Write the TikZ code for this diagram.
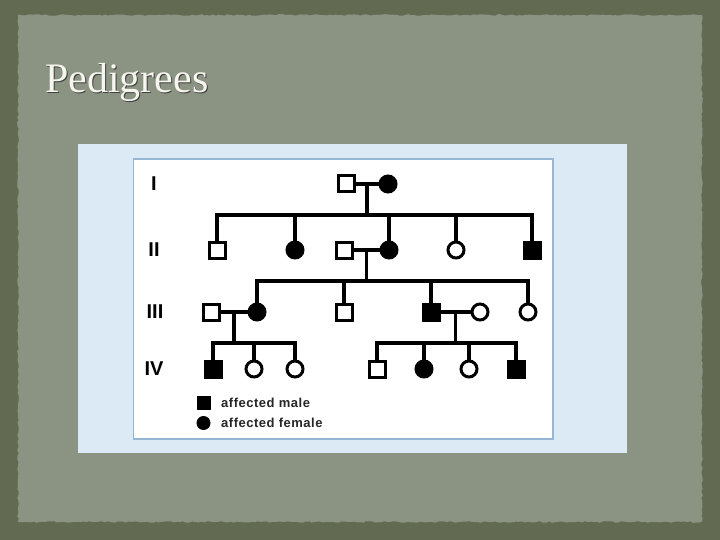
\documentclass[tikz,border=0pt]{standalone}
\usepackage{fontspec}
\setmainfont{Liberation Serif}
\newfontfamily\keyfont[LetterSpace=4]{Liberation Sans}
\newfontfamily\genfont{Liberation Sans}
\usepackage{xcolor}
\definecolor{frameGreen}{RGB}{98,106,82}
\definecolor{paperGrey}{RGB}{139,147,131}
\definecolor{panelBlue}{RGB}{220,234,246}
\definecolor{boxEdge}{RGB}{150,182,214}
\definecolor{titleCream}{RGB}{246,246,238}
\usepackage{tikz}
\usetikzlibrary{calc,decorations.pathmorphing}
\tikzstyle{person}=[draw=black, line width=3pt, minimum size=16pt, inner sep=0pt, fill=white]
\tikzstyle{male}=[person, rectangle]
\tikzstyle{female}=[person, circle]
\tikzstyle{affected}=[fill=black]
\tikzstyle{kin}=[line width=3.4pt]
\tikzstyle{gen}=[font=\genfont\bfseries\fontsize{20}{20}\selectfont, inner sep=0pt]
\tikzstyle{keysym}=[fill=black, minimum size=14pt, inner sep=0pt]
\tikzstyle{keytext}=[font=\keyfont\bfseries\fontsize{13}{15}\selectfont, anchor=west, inner sep=0pt, text=black!85]
\tikzstyle{title}=[font=\fontsize{42}{44}\selectfont, anchor=base west, inner sep=0pt]

\begin{document}
\begin{tikzpicture}[x=1pt, y=-1pt]
  \useasboundingbox (0,0) rectangle (720,540);
  % slide background
  \fill[frameGreen] (0,0) rectangle (720,540);
  \pgfmathsetseed{7}
  \fill[paperGrey, decorate, decoration={random steps, segment length=3pt, amplitude=0.8pt}]
    (18,15) rectangle (702,522);
  \node[title, text=black!75] (titleshade) at (46,94) {Pedigrees};
  \node[title, text=titleCream] (title) at (45,93) {Pedigrees};

  % picture panel
  \fill[panelBlue] (78,144) rectangle (627,453);
  \draw[boxEdge, line width=1.5pt, fill=white] (133.5,159) rectangle (553,439);

  % generation labels
  \node[gen] (genI) at (154,184) {I};
  \node[gen] (genII) at (154,250) {II};
  \node[gen] (genIII) at (155,312) {III};
  \node[gen] (genIV) at (154,369) {IV};

  % generation I
  \node[male] (Im) at (346,184) {};
  \node[female, affected] (If) at (388,184) {};
  % generation II
  \node[male] (II1) at (217,250) {};
  \node[female, affected] (II2) at (295,250) {};
  \node[male] (II3) at (344,250) {};
  \node[female, affected] (II4) at (389,250) {};
  \node[female] (II5) at (456,250) {};
  \node[male, affected] (II6) at (532,250) {};
  % generation III
  \node[male] (III1) at (211,312) {};
  \node[female, affected] (III2) at (257,312) {};
  \node[male] (III3) at (344,312) {};
  \node[male, affected] (III4) at (431,312) {};
  \node[female] (III5) at (480,312) {};
  \node[female] (III6) at (528,312) {};
  % generation IV
  \node[male, affected] (IV1) at (213,369) {};
  \node[female] (IV2) at (254,369) {};
  \node[female] (IV3) at (295,369) {};
  \node[male] (IV4) at (377,369) {};
  \node[female, affected] (IV5) at (424,369) {};
  \node[female] (IV6) at (469,369) {};
  \node[male, affected] (IV7) at (516,369) {};

  % sibship levels
  \coordinate (sibII) at (0,215);
  \coordinate (sibIII) at (0,281);
  \coordinate (sibIV) at (0,343);

  % I x I -> II
  \draw[kin] (Im) -- (If);
  \coordinate (cI) at ($(Im)!0.5!(If)$);
  \draw[kin] (cI) -- (cI |- sibII);
  \draw[kin] (II1.north) |- (sibII -| II6) -- (II6.north);
  \foreach \kid in {II2,II4,II5}
    \draw[kin] (\kid.north) -- (\kid |- sibII);

  % II x II -> III
  \draw[kin] (II3) -- (II4);
  \coordinate (cII) at ($(II3)!0.5!(II4)$);
  \draw[kin] (cII) -- (cII |- sibIII);
  \draw[kin] (III2.north) |- (sibIII -| III6) -- (III6.north);
  \foreach \kid in {III3,III4}
    \draw[kin] (\kid.north) -- (\kid |- sibIII);

  % III x III -> IV (left)
  \draw[kin] (III1) -- (III2);
  \coordinate (cIIIa) at ($(III1)!0.5!(III2)$);
  \draw[kin] (cIIIa) -- (cIIIa |- sibIV);
  \draw[kin] (IV1.north) |- (sibIV -| IV3) -- (IV3.north);
  \draw[kin] (IV2.north) -- (IV2 |- sibIV);

  % III x III -> IV (right)
  \draw[kin] (III4) -- (III5);
  \coordinate (cIIIb) at ($(III4)!0.5!(III5)$);
  \draw[kin] (cIIIb) -- (cIIIb |- sibIV);
  \draw[kin] (IV4.north) |- (sibIV -| IV7) -- (IV7.north);
  \foreach \kid in {IV5,IV6}
    \draw[kin] (\kid.north) -- (\kid |- sibIV);

  % key
  \node[keysym, rectangle] (keym) at (203.5,403) {};
  \node[keysym, circle] (keyf) at (203.5,423) {};
  \node[keytext] (keymtext) at (221,403) {affected male};
  \node[keytext] (keyftext) at (221,423) {affected female};
\end{tikzpicture}
\end{document}
